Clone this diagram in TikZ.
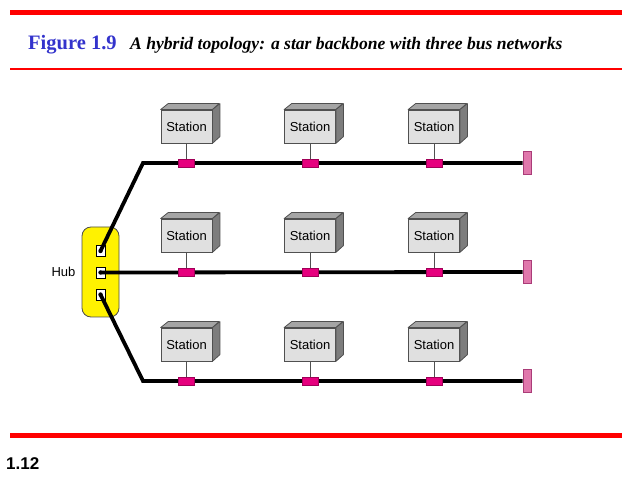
\documentclass[tikz,border=0pt]{standalone}
\usepackage{fontspec}
\setmainfont{Liberation Serif}
\setsansfont{Liberation Sans}
\definecolor{titleblue}{RGB}{51,51,204}
\definecolor{stfront}{RGB}{224,224,224}
\definecolor{sttop}{RGB}{165,165,165}
\definecolor{stside}{RGB}{125,125,125}
\definecolor{stedge}{RGB}{80,80,80}
\definecolor{tapcol}{RGB}{230,0,126}
\definecolor{termcol}{RGB}{224,120,172}
\definecolor{termedge}{RGB}{170,60,120}
\begin{document}
\begin{tikzpicture}[x=1pt,y=-1pt,
  redthick/.style={draw=red,line width=5pt},
  redthin/.style={draw=red,line width=1.5pt},
  station/.style={draw=stedge,fill=stfront,minimum width=51pt,minimum height=33pt,inner sep=0pt,line width=0.8pt,font=\sffamily\fontsize{13}{15}\selectfont},
  tap/.style={draw=tapcol!70!black,fill=tapcol,minimum width=16pt,minimum height=8pt,inner sep=0pt,line width=0.5pt},
  term/.style={draw=termedge,fill=termcol,minimum width=8pt,minimum height=23pt,inner sep=0pt,line width=0.6pt},
  port/.style={draw=black,fill=white,minimum width=9pt,minimum height=11pt,inner sep=0pt,line width=0.8pt},
  hubbox/.style={draw=black!70,fill=yellow,rounded corners=9pt,minimum width=37pt,minimum height=90pt,inner sep=0pt,line width=0.8pt},
  cable/.style={line width=3.8pt,black},
  stem/.style={draw=stedge,line width=0.8pt},
  lbl/.style={font=\sffamily\fontsize{13}{15}\selectfont,inner sep=0pt}
]
\useasboundingbox (0,0) rectangle (638,478);
% frame lines
\draw[redthick] (10,12.5) -- (622,12.5);
\draw[redthin] (10,69) -- (622,69);
\draw[redthick] (10,435.5) -- (622,435.5);
% title
\node[anchor=base west,inner sep=0pt,text=titleblue,font=\bfseries\fontsize{20.5}{24}\selectfont] (fig) at (28,50) {Figure 1.9};
\node[anchor=base west,inner sep=0pt,font=\bfseries\itshape\fontsize{17.6}{20}\selectfont] (cap) at (130,50) {A hybrid topology: a star backbone with three bus networks};
\node[anchor=base west,inner sep=0pt,font=\sffamily\bfseries\fontsize{17}{20}\selectfont] (pg) at (6,470) {1.12};
% hub
\node[hubbox] (hub) at (100.5,272) {};
\node[lbl] (hublbl) at (63.5,272) {Hub};
\node[port] (p1) at (100.5,251) {};
\node[port] (p2) at (100.5,272.5) {};
\node[port] (p3) at (100.5,294.5) {};
% bus terminators and bends
\node[term] (t1) at (527,163) {};
\node[term] (t2) at (527,272) {};
\node[term] (t3) at (527,381) {};
\coordinate (b1) at (143,163);
\coordinate (b3) at (143,381);
\draw[cable] (p1.center) -- (b1) -- (t1.west);
\draw[cable] (p2.center) -- (t2.west);
\draw[cable] (p3.center) -- (b3) -- (t3.west);
\fill (p1.center) circle (2.2pt);
\fill (p2.center) circle (2.2pt);
\fill (p3.center) circle (2.2pt);
% stations
\foreach \r/\by in {1/163,2/272,3/381}{
  \foreach \c/\cx in {1/186.5,2/310,3/434}{
    \node[station] (s\r\c) at (\cx,\by-36.5) {Station};
    \fill[sttop,draw=stedge,line width=0.8pt,line join=round] (s\r\c.north west) -- ++(7.5,-6) -- ++(51,0) -- (s\r\c.north east) -- cycle;
    \fill[stside,draw=stedge,line width=0.8pt,line join=round] (s\r\c.north east) -- ++(7.5,-6) -- ++(0,33) -- (s\r\c.south east) -- cycle;
    \node[tap] (c\r\c) at (\cx,\by) {};
    \draw[stem] (s\r\c.south) -- (c\r\c.north);
  }
}
\end{tikzpicture}
\end{document}
